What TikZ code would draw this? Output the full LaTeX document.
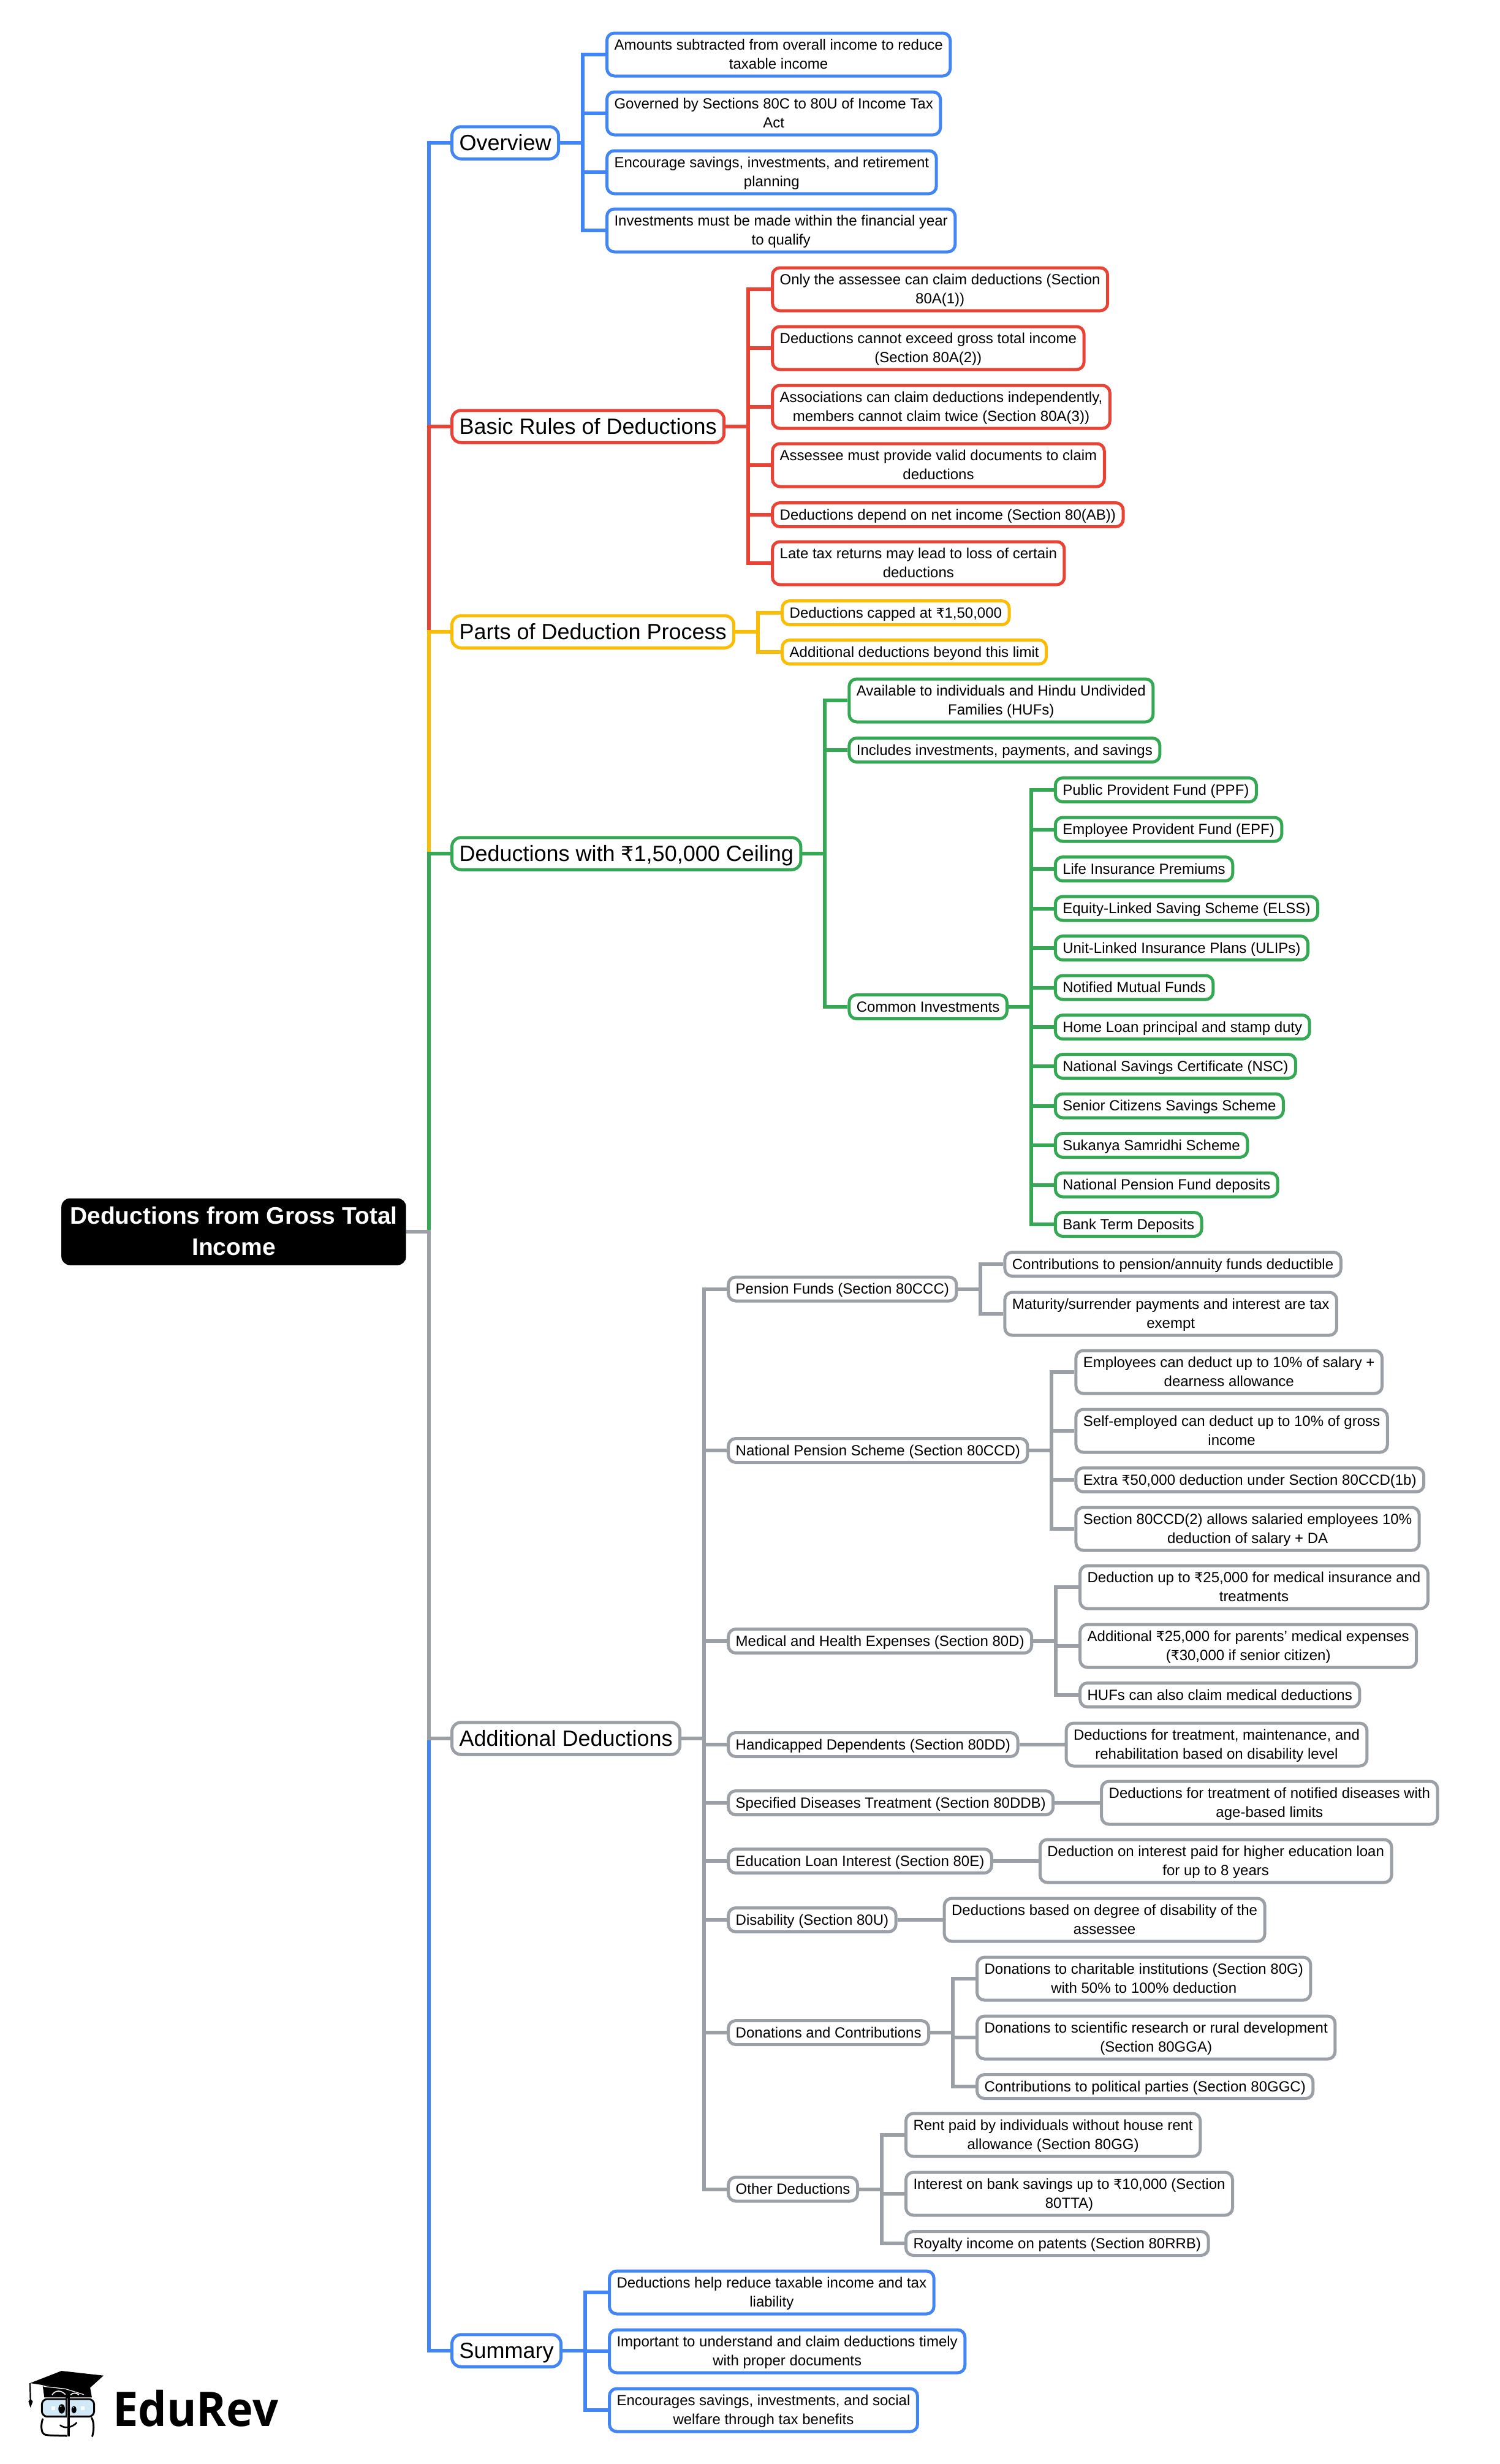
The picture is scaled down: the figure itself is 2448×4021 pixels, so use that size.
\documentclass[tikz,border=0pt]{standalone}
\usepackage{fontspec}
\setmainfont{Liberation Sans}
\newfontfamily\logofont[FakeStretch=0.948]{Open Sans}
\newfontfamily\rsfont[Scale=0.92]{DejaVu Sans}
\newcommand{\rs}{{\rsfont ₹}}
\definecolor{cblue}{HTML}{4285F4}
\definecolor{cred}{HTML}{EA4335}
\definecolor{cyel}{HTML}{FBBC04}
\definecolor{cgreen}{HTML}{34A853}
\definecolor{cgrey}{HTML}{9AA0A6}
\definecolor{cglass}{HTML}{D2EAF8}
\newcommand{\leaffont}{\fontsize{24}{31}\selectfont}
\newcommand{\topfont}{\fontsize{36}{46.5}\selectfont}
\newcommand{\rootfont}{\fontsize{39}{51}\selectfont\bfseries}
\newcommand{\st}{\rule[-7.2pt]{0pt}{31pt}}
\newcommand{\stt}{\rule[-10.8pt]{0pt}{46.5pt}}
\newcommand{\str}{\rule[-12.2pt]{0pt}{51pt}}
\tikzset{
  edge/.style={draw=#1,line width=6pt},
  box/.style={draw=#1,fill=white,line width=5pt,rounded corners=12pt,align=center,
    inner xsep=12pt,inner ysep=4pt,font=\leaffont,anchor=west,text=black},
  topbox/.style={box=#1,font=\topfont,inner xsep=12pt,inner ysep=3pt,rounded corners=15pt},
  rootbox/.style={fill=black,text=white,rounded corners=14pt,align=center,inner xsep=14pt,
    inner ysep=3.5pt,font=\rootfont,anchor=west},
}
% top-level child of the root: colour, name, y, text
\newcommand{\topk}[4]{%
  \node[topbox=#1] (#2) at (735,#3) {\stt #4};
  \draw[edge=#1] (root.east) -- ++(37,0) |- (#2.west);}
% one-line child: colour, name, parent, y, text
\newcommand{\onel}[5]{%
  \path (#3.east) ++(74,0) coordinate (p#2);
  \node[box=#1] (#2) at (p#2 |- 0,#4) {\st #5};
  \draw[edge=#1] (#3.east) -- ++(37,0) |- (#2.west);}
% two-line child: colour, name, parent, y, line 1, line 2
\newcommand{\twol}[6]{%
  \path (#3.east) ++(74,0) coordinate (p#2);
  \node[box=#1] (#2) at (p#2 |- 0,#4) {\st #5\\\st #6};
  \draw[edge=#1] (#3.east) -- ++(37,0) |- (#2.west);}
\begin{document}
\begin{tikzpicture}[x=1pt,y=-1pt]
\useasboundingbox (0,0) rectangle (2448,4021);
\node[rootbox] (root) at (100,2010) {\str Deductions from Gross Total\\\str Income};

% upper branches: drawn from the top down so the nearer colour lies on top
\topk{cblue}{ov}{233}{Overview}
\topk{cred}{br}{696}{Basic Rules of Deductions}
\topk{cyel}{pd}{1031}{Parts of Deduction Process}
\topk{cgreen}{dc}{1393}{Deductions with \rs1,50,000 Ceiling}
\topk{cblue}{su}{3836}{Summary}
\topk{cgrey}{ad}{2837}{Additional Deductions}

\twol{cblue}{ov1}{ov}{89}{Amounts subtracted from overall income to reduce}{taxable income}
\twol{cblue}{ov2}{ov}{185}{Governed by Sections 80C to 80U of Income Tax}{Act}
\twol{cblue}{ov3}{ov}{281}{Encourage savings, investments, and retirement}{planning}
\twol{cblue}{ov4}{ov}{376}{Investments must be made within the financial year}{to qualify}

\twol{cred}{br1}{br}{472}{Only the assessee can claim deductions (Section}{80A(1))}
\twol{cred}{br2}{br}{568}{Deductions cannot exceed gross total income}{(Section 80A(2))}
\twol{cred}{br3}{br}{664}{Associations can claim deductions independently,}{members cannot claim twice (Section 80A(3))}
\twol{cred}{br4}{br}{759}{Assessee must provide valid documents to claim}{deductions}
\onel{cred}{br5}{br}{840}{Deductions depend on net income (Section 80(AB))}
\twol{cred}{br6}{br}{919}{Late tax returns may lead to loss of certain}{deductions}

\onel{cyel}{pd1}{pd}{1000}{Deductions capped at \rs1,50,000}
\onel{cyel}{pd2}{pd}{1064}{Additional deductions beyond this limit}

\twol{cgreen}{dc1}{dc}{1143}{Available to individuals and Hindu Undivided}{Families (HUFs)}
\onel{cgreen}{dc2}{dc}{1224}{Includes investments, payments, and savings}
\onel{cgreen}{ci}{dc}{1643}{Common Investments}

\onel{cgreen}{ci1}{ci}{1289}{Public Provident Fund (PPF)}
\onel{cgreen}{ci2}{ci}{1353.5}{Employee Provident Fund (EPF)}
\onel{cgreen}{ci3}{ci}{1418}{Life Insurance Premiums}
\onel{cgreen}{ci4}{ci}{1482.5}{Equity-Linked Saving Scheme (ELSS)}
\onel{cgreen}{ci5}{ci}{1547}{Unit-Linked Insurance Plans (ULIPs)}
\onel{cgreen}{ci6}{ci}{1611.5}{Notified Mutual Funds}
\onel{cgreen}{ci7}{ci}{1676}{Home Loan principal and stamp duty}
\onel{cgreen}{ci8}{ci}{1740}{National Savings Certificate (NSC)}
\onel{cgreen}{ci9}{ci}{1804.5}{Senior Citizens Savings Scheme}
\onel{cgreen}{ci10}{ci}{1869}{Sukanya Samridhi Scheme}
\onel{cgreen}{ci11}{ci}{1933.5}{National Pension Fund deposits}
\onel{cgreen}{ci12}{ci}{1998}{Bank Term Deposits}

\onel{cgrey}{a1}{ad}{2103.5}{Pension Funds (Section 80CCC)}
\onel{cgrey}{a2}{ad}{2367}{National Pension Scheme (Section 80CCD)}
\onel{cgrey}{a3}{ad}{2678}{Medical and Health Expenses (Section 80D)}
\onel{cgrey}{a4}{ad}{2847}{Handicapped Dependents (Section 80DD)}
\onel{cgrey}{a5}{ad}{2942}{Specified Diseases Treatment (Section 80DDB)}
\onel{cgrey}{a6}{ad}{3037}{Education Loan Interest (Section 80E)}
\onel{cgrey}{a7}{ad}{3133}{Disability (Section 80U)}
\onel{cgrey}{a8}{ad}{3317}{Donations and Contributions}
\onel{cgrey}{a9}{ad}{3572.5}{Other Deductions}

\onel{cgrey}{a11}{a1}{2063}{Contributions to pension/annuity funds deductible}
\twol{cgrey}{a12}{a1}{2144}{Maturity/surrender payments and interest are tax}{exempt}

\twol{cgrey}{a21}{a2}{2239}{Employees can deduct up to 10\% of salary +}{dearness allowance}
\twol{cgrey}{a22}{a2}{2335}{Self-employed can deduct up to 10\% of gross}{income}
\onel{cgrey}{a23}{a2}{2415}{Extra \rs50,000 deduction under Section 80CCD(1b)}
\twol{cgrey}{a24}{a2}{2495}{Section 80CCD(2) allows salaried employees 10\%}{deduction of salary + DA}

\twol{cgrey}{a31}{a3}{2590}{Deduction up to \rs25,000 for medical insurance and}{treatments}
\twol{cgrey}{a32}{a3}{2686}{Additional \rs25,000 for parents' medical expenses}{(\rs30,000 if senior citizen)}
\onel{cgrey}{a33}{a3}{2766}{HUFs can also claim medical deductions}

\twol{cgrey}{a41}{a4}{2847}{Deductions for treatment, maintenance, and}{rehabilitation based on disability level}
\twol{cgrey}{a51}{a5}{2942}{Deductions for treatment of notified diseases with}{age-based limits}
\twol{cgrey}{a61}{a6}{3037}{Deduction on interest paid for higher education loan}{for up to 8 years}
\twol{cgrey}{a71}{a7}{3133}{Deductions based on degree of disability of the}{assessee}

\twol{cgrey}{a81}{a8}{3229}{Donations to charitable institutions (Section 80G)}{with 50\% to 100\% deduction}
\twol{cgrey}{a82}{a8}{3325}{Donations to scientific research or rural development}{(Section 80GGA)}
\onel{cgrey}{a83}{a8}{3405}{Contributions to political parties (Section 80GGC)}

\twol{cgrey}{a91}{a9}{3484}{Rent paid by individuals without house rent}{allowance (Section 80GG)}
\twol{cgrey}{a92}{a9}{3580}{Interest on bank savings up to \rs10,000 (Section}{80TTA)}
\onel{cgrey}{a93}{a9}{3661}{Royalty income on patents (Section 80RRB)}

\twol{cblue}{su1}{su}{3741}{Deductions help reduce taxable income and tax}{liability}
\twol{cblue}{su2}{su}{3837}{Important to understand and claim deductions timely}{with proper documents}
\twol{cblue}{su3}{su}{3933}{Encourages savings, investments, and social}{welfare through tax benefits}

% logo
\begin{scope}[shift={(35,3855)},x=0.3333pt,y=-0.3333pt]
  \fill[black] (104,114) -- (112,172) -- (345,172) -- (336,122) -- cycle;
  \draw[white,line width=1.6pt] (150,160) .. controls (165,135) and (195,135) .. (215,158);
  \draw[white,line width=1.6pt] (240,160) .. controls (250,148) and (270,148) .. (282,160);
  \fill[black] (42,102) -- (196,42) -- (402,65) -- (305,153) -- (215,125) -- (110,112) -- cycle;
  \draw[white,line width=1.2pt] (108,118) -- (215,130) -- (305,158);
  \draw[black,line width=2.2pt] (42,102) -- (44,182);
  \fill[black] (44,178) -- (56,192) -- (44,222) -- (34,192) -- cycle;
  \draw[black,fill=cglass,line width=3pt,rounded corners=9pt] (100,180) rectangle (356,266);
  \draw[black,line width=3pt,line cap=round] (104,278) .. controls (96,300) and (96,330) .. (104,345) .. controls (112,358) and (125,358) .. (222,360);
  \draw[black,line width=3pt,line cap=round] (344,272) .. controls (358,300) and (354,335) .. (347,362);
  \draw[white,line width=2pt] (226,175) -- (226,362);
  \draw[black,line width=3pt] (220,168) -- (220,178);
  \draw[black,line width=4pt] (230,172) -- (230,362);
  \draw[black,line width=2pt] (219,176) -- (219,265);
  \draw[black,line width=2.6pt,line cap=round] (190,308) .. controls (210,325) and (245,322) .. (270,296);
  \fill[black] (197,228) ellipse [x radius=16,y radius=23];
  \fill[white] (193,215) circle [radius=4];
  \fill[black] (257,232) ellipse [x radius=12,y radius=18];
  \fill[white] (254,222) circle [radius=3];
  \fill[white] (148,215) rectangle (166,234);
  \fill[white] (290,215) rectangle (308,234);
\end{scope}
\node[anchor=base west,inner sep=0pt,font=\logofont\bfseries\fontsize{78}{90}\selectfont] (logo) at (184,3959) {EduRev};
\end{tikzpicture}
\end{document}
